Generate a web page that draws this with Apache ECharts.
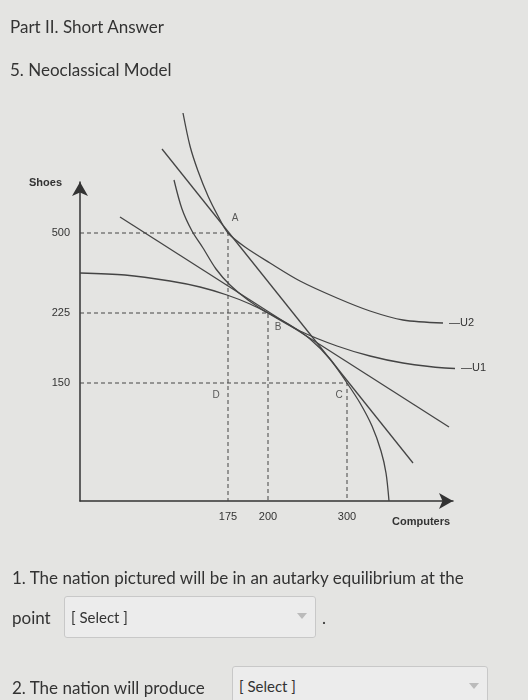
<!DOCTYPE html>
<html><head><meta charset="utf-8">
<script src="https://cdn.jsdelivr.net/npm/echarts@6/dist/echarts.min.js"></script>
<style>
body{margin:0;background:#e4e4e2;font-family:Lato,"Open Sans",sans-serif;color:#333;}
#c{position:absolute;left:0;top:0;width:528px;height:700px;}
.t{position:absolute;font-size:17px;white-space:nowrap;}
.sel{position:absolute;background:#ececec;border:1px solid #c8c8c8;border-radius:3px;font-size:15px;padding:0 6px;box-sizing:border-box;}
.sel span{position:absolute;right:8px;top:16px;width:0;height:0;border-left:5px solid transparent;border-right:5px solid transparent;border-top:6px solid #bbb;}
.ax{position:absolute;font-family:"Liberation Sans",Arial,sans-serif;font-weight:bold;font-size:11px;color:#333;}
</style></head><body>
<div id="c"></div>
<div class="t" style="left:10px;top:16px;">Part II. Short Answer</div>
<div class="t" style="left:10px;top:59px;">5. Neoclassical Model</div>
<div class="ax" style="left:392px;top:515px;">Computers</div>
<div class="t" style="left:12px;top:567px;">1. The nation pictured will be in an autarky equilibrium at the</div>
<div class="t" style="left:12px;top:607px;">point</div>
<div class="sel" style="left:64px;top:596px;width:252px;height:42px;line-height:40px;">[ Select ]<span></span></div>
<div class="t" style="left:322px;top:607px;">.</div>
<div class="t" style="left:12px;top:677px;">2. The nation will produce</div>
<div class="sel" style="left:232px;top:666px;width:256px;height:40px;line-height:38px;">[ Select ]<span></span></div>
<script>
// abstract drawing units (origin at axes corner)
const xTickPos = [148, 188, 267];
const xTickLabels = ['175', '200', '300'];
const yTickPos = [268, 188, 118];
const yTickLabels = ['500', '225', '150'];
const ppf = [[0,228],[45,226],[90,220],[120,214],[147,206],[170,197],[188,188],[210,176],[230,162],[250,142],[267,118],[280,98],[292,75],[301,50],[306,28],[309,0]];
const u2 = [[103,388],[110,355],[118,330],[128,305],[138,285],[148,268],[165,254],[190,238],[220,220],[257,203],[290,190],[323,181],[363,178]];
const u1 = [[94,321],[102,292],[112,270],[123,253],[136,232],[150,216],[168,201],[188,188],[220,170],[257,155],[290,145],[323,138],[365,133],[410,132]];
const priceLine1 = [[40,284],[369,74]];
const priceLine2 = [[82,352],[333,38]];
const points = [{n:'A',v:[148,268]},{n:'B',v:[188,188]},{n:'C',v:[267,118]},{n:'D',v:[148,118]}];
const labelOffsets = {A:[7,-15],B:[10,14],C:[-8,12],D:[-12,12]};

const ch = echarts.init(document.getElementById('c'));
const curve = (d, name) => ({type:'line', data:d, smooth:0.3, clip:false, symbol:'none', lineStyle:{color:'#444',width:1.3},
  endLabel: name ? {show:true, formatter:name, color:'#333', fontSize:11, offset:[-2,0]} : undefined});
const dash = d => ({type:'line', data:d, symbol:'none', lineStyle:{color:'#444',width:1,type:[4,3]}});
ch.setOption({
  animation:false,
  grid:{left:80, top:182, width:373, height:319},
  xAxis:{type:'value', min:0, max:373,
    axisLine:{lineStyle:{color:'#333',width:1.5}, symbol:['none','arrow'], symbolSize:[12,14]},
    axisTick:{show:false}, splitLine:{show:false},
    axisLabel:{customValues:xTickPos, formatter:v=>xTickLabels[xTickPos.indexOf(v)]||'', color:'#333', fontSize:11, margin:10}},
  yAxis:{type:'value', min:0, max:319,
    axisLine:{show:true, lineStyle:{color:'#333',width:1.5}, symbol:['none','arrow'], symbolSize:[12,14]},
    axisTick:{show:false}, splitLine:{show:false},
    axisLabel:{customValues:yTickPos, formatter:v=>yTickLabels[yTickPos.indexOf(v)]||'', color:'#333', fontSize:11, margin:10},
    name:'Shoes', nameLocation:'end', nameGap:-6, nameTextStyle:{fontWeight:'bold',fontSize:11,color:'#333',align:'right',padding:[0,18,0,0]}},
  series:[
    curve(ppf), curve(u2,'—U2'), curve(u1,'—U1'),
    {type:'line', data:priceLine1, symbol:'none', lineStyle:{color:'#444',width:1.3}},
    {type:'line', data:priceLine2, symbol:'none', clip:false, lineStyle:{color:'#444',width:1.3}},
    dash([[0,yTickPos[0]],[xTickPos[0],yTickPos[0]],[xTickPos[0],0]]),
    dash([[0,yTickPos[1]],[xTickPos[1],yTickPos[1]],[xTickPos[1],0]]),
    dash([[0,yTickPos[2]],[xTickPos[2],yTickPos[2]],[xTickPos[2],0]]),
    {type:'scatter', symbolSize:0, data:points.map(p=>({value:p.v, name:p.n,
      label:{show:true, formatter:p.n, color:'#333', fontSize:10, offset:labelOffsets[p.n]}}))}
  ]
});
</script></body></html>
